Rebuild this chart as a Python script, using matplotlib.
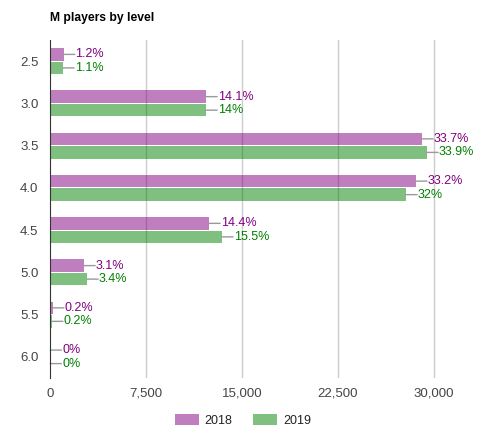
import matplotlib

matplotlib.use('Agg')
import numpy as np
import matplotlib.pyplot as plt
from matplotlib.patches import Patch

plt.rcParams['font.family'] = ['Liberation Sans', 'DejaVu Sans']

levels = ['2.5', '3.0', '3.5', '4.0', '4.5', '5.0', '5.5', '6.0']
players_2018 = [1050, 12190, 29100, 28610, 12420, 2640, 190, 0]
players_2019 = [990, 12190, 29490, 27850, 13440, 2870, 110, 0]
pct_2018 = ['1.2%', '14.1%', '33.7%', '33.2%', '14.4%', '3.1%', '0.2%', '0%']
pct_2019 = ['1.1%', '14%', '33.9%', '32%', '15.5%', '3.4%', '0.2%', '0%']
xticks = [0, 7500, 15000, 22500, 30000]

fig = plt.figure(figsize=(4.8, 4.4), dpi=100)
ax = fig.add_axes([0.1048, 0.141, 0.8702, 0.768])

y = np.arange(len(levels))
h = 0.3
series = [(players_2018, pct_2018, 'purple', -h / 2 - 0.01),
          (players_2019, pct_2019, 'green', h / 2 + 0.01)]
for vals, pcts, col, off in series:
    ax.barh(y + off, vals, height=h, color=col, alpha=0.5, zorder=2, linewidth=0)
    for yi, v, p in zip(y, vals, pcts):
        # gray leader line, then the label just after it
        ax.annotate('', xy=(v, yi + off), xytext=(8, 0), textcoords='offset points',
                    arrowprops=dict(arrowstyle='-', color='#999999', lw=1,
                                    shrinkA=0, shrinkB=0), zorder=3)
        ax.annotate(p, xy=(v, yi + off), xytext=(8.5, 0), textcoords='offset points',
                    ha='left', va='center', fontsize=9, color=col, zorder=3)

ax.set_xlim(0, 32700)
ax.set_ylim(len(levels) - 0.5, -0.5)
ax.set_yticks(y)
ax.set_yticklabels(levels)
ax.set_xticks(xticks)
ax.set_xticklabels(['{:,}'.format(t) for t in xticks])
ax.tick_params(length=0, labelsize=9.5, colors='#444444')
ax.tick_params(axis='y', pad=8.5)
ax.tick_params(axis='x', pad=7)
for t in xticks[1:]:
    ax.axvline(t, color='#cccccc', lw=1, zorder=1)
for s in ['top', 'right', 'bottom']:
    ax.spines[s].set_visible(False)
ax.spines['left'].set_color('#333333')
ax.spines['left'].set_zorder(4)

fig.text(50 / 480, 1 - 18 / 440, 'M players by level', fontsize=8.7,
         fontweight='bold', ha='left', va='center', color='#000000')

handles = [Patch(facecolor='purple', alpha=0.5, lw=0),
           Patch(facecolor='green', alpha=0.5, lw=0)]
fig.legend(handles, ['2018', '2019'], loc='center', bbox_to_anchor=(0.506, 0.045),
           ncol=2, frameon=False, fontsize=9, handlelength=1.9, handleheight=0.95,
           columnspacing=1.7, handletextpad=0.45, labelcolor='#222222')

fig.savefig('out.png', dpi=100)
